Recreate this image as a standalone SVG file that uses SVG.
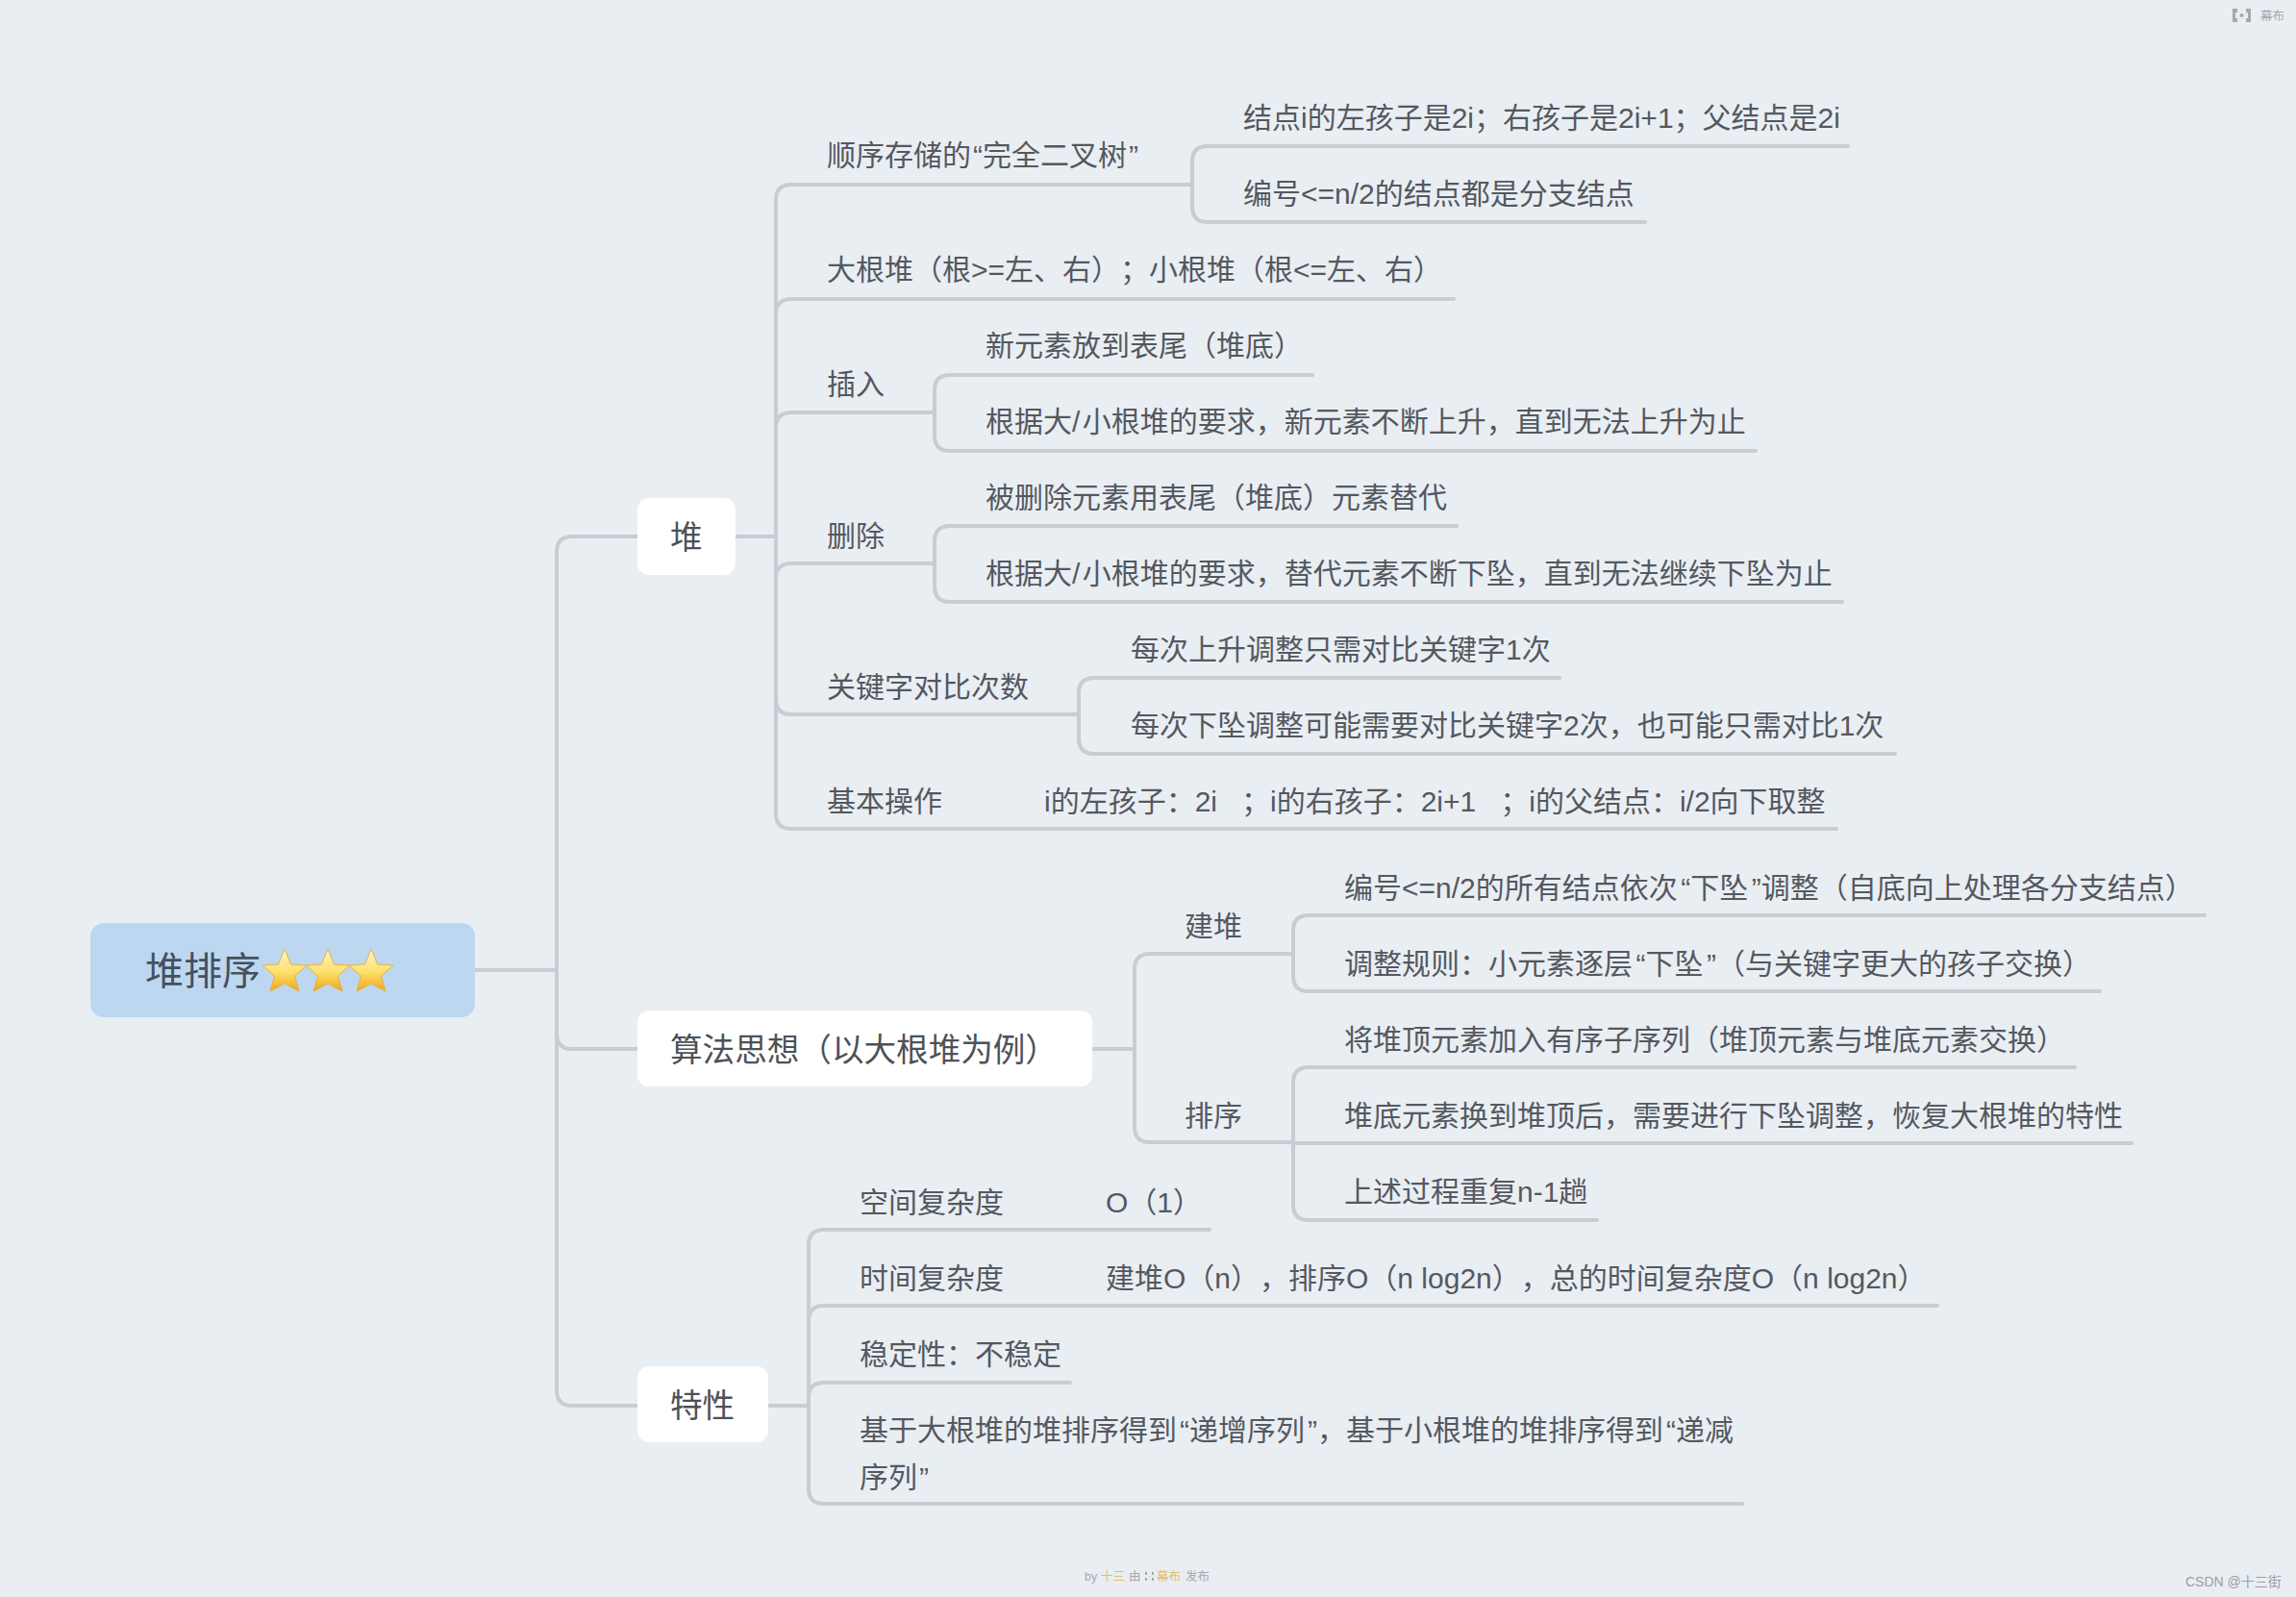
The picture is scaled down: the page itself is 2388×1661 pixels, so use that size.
<svg xmlns="http://www.w3.org/2000/svg" width="2388" height="1661" viewBox="0 0 2388 1661">
<defs>
<linearGradient id="sg" x1="0" y1="0" x2="0" y2="1"><stop offset="0" stop-color="#fff6cc"/><stop offset="0.55" stop-color="#fde06a"/><stop offset="1" stop-color="#eda51c"/></linearGradient>
<polygon id="star" points="0,-24 6.5,-8 23,-7 10.5,4 15,20 0,12 -15,20 -10.5,4 -23,-7 -6.5,-8" fill="url(#sg)" stroke="#e8b23a" stroke-width="1" stroke-linejoin="round"/>
</defs>
<style>
text{font-family:"Liberation Sans","Noto Sans CJK SC",sans-serif;fill:#54585f;font-size:30px;text-spacing-trim:space-all}
.l{fill:none;stroke:#c9ccd2;stroke-width:4;stroke-linecap:round}
.w{fill:#fff}
.t1{font-size:33.6px;fill:#4d5157}
.t0{font-size:40px;fill:#46505e}
.m{font-size:12.5px;fill:#a5a8ad}
.y{font-size:12.5px;fill:#e5bd5c}
</style>
<rect width="2388" height="1661" fill="#e9eef3"/>
<g id="connectors">
<path class="l" d="M494,1009H579"/>
<path class="l" d="M663,558H595Q579,558 579,574V1446Q579,1462 595,1462H663"/>
<path class="l" d="M579,1075Q579,1091 595,1091H663"/>
<path class="l" d="M765,558H807"/>
<path class="l" d="M1238,192H823Q807,192 807,208V846Q807,862 823,862H1910"/>
<path class="l" d="M807,327Q807,311 823,311H1512"/>
<path class="l" d="M807,445Q807,429 823,429H972"/>
<path class="l" d="M807,602Q807,586 823,586H972"/>
<path class="l" d="M807,727Q807,743 823,743H1122"/>
<path class="l" d="M1922,152H1256Q1240,152 1240,168V215Q1240,231 1256,231H1711"/>
<path class="l" d="M1365,390H988Q972,390 972,406V453Q972,469 988,469H1826"/>
<path class="l" d="M1515,547H988Q972,547 972,563V610Q972,626 988,626H1916"/>
<path class="l" d="M1622,705H1138Q1122,705 1122,721V768Q1122,784 1138,784H1971"/>
<path class="l" d="M1136,1091H1180"/>
<path class="l" d="M1345,992H1196Q1180,992 1180,1008V1172Q1180,1188 1196,1188H1345"/>
<path class="l" d="M2293,952H1361Q1345,952 1345,968V1015Q1345,1031 1361,1031H2184"/>
<path class="l" d="M2158,1110H1361Q1345,1110 1345,1126V1253Q1345,1269 1361,1269H1661"/>
<path class="l" d="M1345,1189H2217"/>
<path class="l" d="M800,1462H841"/>
<path class="l" d="M1258,1279H857Q841,1279 841,1295V1548Q841,1564 857,1564H1812"/>
<path class="l" d="M841,1374Q841,1358 857,1358H2015"/>
<path class="l" d="M841,1454Q841,1438 857,1438H1113"/>
</g>
<g id="root"><rect x="94" y="960" width="400" height="98" rx="14" fill="#bdd7f0"/><text class="t0" x="151" y="1024">堆排序</text><use href="#star" x="296" y="1011"/><use href="#star" x="341" y="1011"/><use href="#star" x="386" y="1011"/></g>
<g id="n-heap"><rect class="w" x="663" y="518" width="102" height="80" rx="12"/><text class="t1" x="697" y="571">堆</text></g>
<g id="n-algo"><rect class="w" x="663" y="1051" width="473" height="79" rx="12"/><text class="t1" x="697" y="1104">算法思想（以大根堆为例）</text></g>
<g id="n-prop"><rect class="w" x="663" y="1421" width="136" height="79" rx="12"/><text class="t1" x="697" y="1474">特性</text></g>
<g id="heap-items">
<text x="860" y="172">顺序存储的<tspan dx="2">“</tspan>完全二叉树<tspan dx="2">”</tspan></text>
<text x="1293" y="133">结点i的左孩子是2i；右孩子是2i+1；父结点是2i</text>
<text x="1293" y="212">编号&lt;=n/2的结点都是分支结点</text>
<text x="860" y="291">大根堆（根&gt;=左、右）；小根堆（根&lt;=左、右）</text>
<text x="860" y="410">插入</text>
<text x="1025" y="370">新元素放到表尾（堆底）</text>
<text x="1025" y="449">根据大/<tspan dx="2.500">小</tspan>根堆的要求，新元素不断上升，直到无法上升为止</text>
<text x="860" y="568">删除</text>
<text x="1025" y="528">被删除元素用表尾（堆底）元素替代</text>
<text x="1025" y="607">根据大/<tspan dx="2.500">小</tspan>根堆的要求，替代元素不断下坠，直到无法继续下坠为止</text>
<text x="860" y="725">关键字对比次数</text>
<text x="1176" y="686">每次上升调整只需对比关键字1次</text>
<text x="1176" y="765">每次下坠调整可能需要对比关键字2次，也可能只需对比1次</text>
<text x="860" y="844">基本操作</text>
<text x="1086" y="844" xml:space="preserve">i的左孩子：2i   ；i的右孩子：2i+1   ；i的父结点：i/2向下取整</text>
</g>
<g id="algo-items">
<text x="1232" y="974">建堆</text>
<text x="1398" y="934">编号&lt;=n/2的所有结点依次<tspan dx="3.500">“</tspan>下坠<tspan dx="3.500">”</tspan>调整（自底向上处理各分支结点）</text>
<text x="1398" y="1013">调整规则：小元素逐层<tspan dx="3.500">“</tspan>下坠<tspan dx="3.500">”</tspan>（与关键字更大的孩子交换）</text>
<text x="1232" y="1171">排序</text>
<text x="1398" y="1092">将堆顶元素加入有序子序列（堆顶元素与堆底元素交换）</text>
<text x="1398" y="1171">堆底元素换到堆顶后，需要进行下坠调整，恢复大根堆的特性</text>
<text x="1398" y="1250">上述过程重复n-1趟</text>
</g>
<g id="prop-items">
<text x="894" y="1261">空间复杂度</text>
<text x="1150" y="1261">O（1）</text>
<text x="894" y="1340">时间复杂度</text>
<text x="1150" y="1340">建堆O（n），排序O（n log2n），总的时间复杂度O（n log2n）</text>
<text x="894" y="1419">稳定性：不稳定</text>
<text x="894" y="1498">基于大根堆的堆排序得到<tspan dx="3">“</tspan>递增序列<tspan dx="3">”</tspan>，基于小根堆的堆排序得到<tspan dx="3">“</tspan>递减</text>
<text x="894" y="1547">序列<tspan dx="2">”</tspan></text>
</g>
<g id="marks">
<path d="M2322,9h5v4h-2v6h2v4h-5zM2341,9h-5v4h2v6h-2v4h5z" fill="#a5a8ad"/><circle cx="2331.500" cy="16" r="2" fill="#a5a8ad"/>
<text class="m" x="2351" y="21">幕布</text>
<text class="m" x="1128" y="1644">by</text><text class="y" x="1145" y="1644">十三</text><text class="m" x="1174" y="1644">由</text>
<path d="M1191,1635h2v3h-2zM1191,1641h2v3h-2zM1198,1635h2v3h-2zM1198,1641h2v3h-2zM1195,1639h1v1h-1z" fill="#a5a8ad"/>
<text class="y" x="1203" y="1644">幕布</text><text class="m" x="1233" y="1644">发布</text>
<text x="2273" y="1650" style="font-size:14px;fill:#9a9da2">CSDN @十三街</text>
</g>
</svg>
